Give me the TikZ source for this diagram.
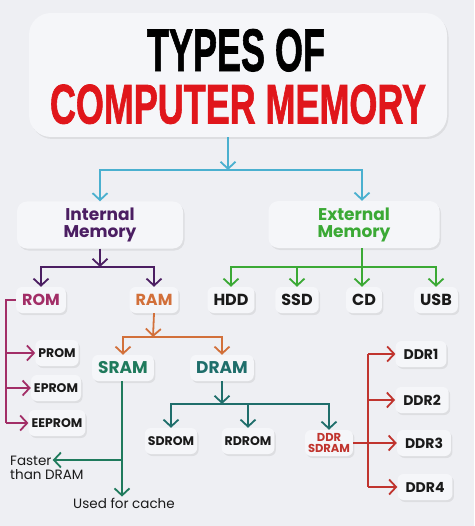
\documentclass[tikz,border=0pt]{standalone}
\usepackage{graphicx}
\usepackage{fontspec}
\setmainfont{Poppins}
\newfontfamily\titlefont[FakeBold=1.5]{Liberation Sans}
\usetikzlibrary{arrows.meta,shadows}
\definecolor{bg}{HTML}{EEEFF3}
\definecolor{boxc}{HTML}{F5F6F9}
\definecolor{titred}{HTML}{E0161B}
\definecolor{cTop}{HTML}{4AB0CF}
\definecolor{cInt}{HTML}{4B1E62}
\definecolor{cRom}{HTML}{A22E67}
\definecolor{cRam}{HTML}{D2703A}
\definecolor{cExt}{HTML}{3BA935}
\definecolor{cSram}{HTML}{1F7A5C}
\definecolor{cDram}{HTML}{1F6E6B}
\definecolor{cDdr}{HTML}{C0342E}
\definecolor{ink}{HTML}{1A1A1A}
\begin{document}
\begin{tikzpicture}[x=1pt,y=-1pt,
  ln/.style={line width=1.8pt},
  arr/.style={line width=1.8pt,-{Straight Barb[length=7pt,width=15pt]}},
  soft/.style={drop shadow={shadow xshift=1.5pt,shadow yshift=-2pt,opacity=0.07,fill=black}},
  bigbox/.style={rounded corners=22pt,fill=boxc,soft,minimum width=418pt,minimum height=124pt},
  midbox/.style={rounded corners=10pt,fill=boxc,soft,minimum height=47pt,align=center,
     font=\bfseries\fontsize{17}{17}\selectfont},
  lab/.style={rounded corners=6pt,fill=boxc,soft,minimum height=26pt,inner xsep=6pt,inner ysep=2pt,
     font=\bfseries\fontsize{16}{16}\selectfont},
  small/.style={lab,inner xsep=3pt,text=ink,font=\bfseries\fontsize{12.5}{12.5}\selectfont},
  plain/.style={inner sep=1pt,text=ink,font=\fontsize{13.5}{14}\selectfont}
]
\useasboundingbox (0,0) rectangle (474,526);
\fill[bg] (0,0) rectangle (474,526);

% title
\node[bigbox] (title) at (238,75) {};
\node[inner sep=0pt,text=black] (t1) at (236,50) {\raisebox{0pt}[\height][0pt]{\titlefont\bfseries\resizebox{178pt}{42pt}{TYPES OF}}};
\node[inner sep=0pt,text=titred] (t2) at (238,104) {\raisebox{0pt}[\height][0pt]{\titlefont\bfseries\resizebox{376pt}{39pt}{COMPUTER MEMORY}}};

% level 1
\node[midbox,minimum width=166pt,text=cInt] (intl) at (100,225) {Internal\\Memory};
\node[midbox,minimum width=171pt,text=cExt] (ext) at (354,224.5) {External\\Memory};
\coordinate (jTop) at (228,170);
\coordinate (jExt) at (362,267);
\coordinate (jInt) at (100,267);
\draw[arr,cTop] (title.south -| jTop) -- (jTop);
\draw[arr,cTop] (jTop) -| (intl.north);
\draw[arr,cTop] (jTop) -| (ext.north -| jExt);

% level 2 internal
\node[lab,text=cRom] (rom) at (41,300) {ROM};
\node[lab,text=cRam] (ram) at (154,300) {RAM};
\draw[arr,cInt] (intl.south) -- (jInt);
\draw[arr,cInt] (jInt) -| (rom.north);
\draw[arr,cInt] (jInt) -| (ram.north);

% level 2 external
\node[lab,text=ink] (hdd) at (231,300) {HDD};
\node[lab,text=ink] (ssd) at (297,300) {SSD};
\node[lab,text=ink] (cd) at (364,300) {CD};
\node[lab,text=ink] (usb) at (436,300) {USB};
\draw[arr,cExt] (ext.south -| jExt) -- (cd.north -| jExt);
\draw[arr,cExt] (jExt) -| (hdd.north);
\draw[arr,cExt] (jExt) -| (ssd.north);
\draw[arr,cExt] (jExt) -| (usb.north);

% ROM children
\node[small] (prom) at (57,353) {PROM};
\node[small] (eprom) at (56,388) {EPROM};
\node[small] (eeprom) at (57,423) {EEPROM};
\coordinate (romEnd) at (6,423);
\draw[ln,cRom] (rom.west) -| (romEnd);
\draw[arr,cRom] (prom.west -| romEnd) -- (prom.west);
\draw[arr,cRom] (eprom.west -| romEnd) -- (eprom.west);
\draw[arr,cRom] (romEnd) -- (eeprom.west);

% RAM children
\node[lab,text=cSram,font=\bfseries\fontsize{17}{17}\selectfont] (sram) at (123,368) {SRAM};
\node[lab,text=cDram,font=\bfseries\fontsize{17}{17}\selectfont] (dram) at (222,368) {DRAM};
\coordinate (jRam) at (153,337);
\draw[arr,cRam] (ram.south) -- (jRam);
\draw[arr,cRam] (jRam) -| (sram.north);
\draw[arr,cRam] (jRam) -| (dram.north);

% SRAM notes
\node[plain,anchor=west] (fast1) at (9,461) {Faster};
\node[plain,anchor=west] (fast2) at (9,475) {than DRAM};
\node[plain] (cache) at (124,503) {Used for cache};
\coordinate (jS) at (122,460);
\draw[arr,cSram] (sram.south -| jS) -- (cache.north -| jS);
\draw[arr,cSram] (jS) -- (fast1.east |- jS);

% DRAM children
\node[small] (sdrom) at (171,441) {SDROM};
\node[small] (rdrom) at (248,441) {RDROM};
\node[small,text=cDdr,align=center,inner ysep=3pt,font=\bfseries\fontsize{11.5}{10.5}\selectfont] (ddr) at (329,443) {DDR\\SDRAM};
\coordinate (jD) at (222,404);
\draw[arr,cDram] (dram.south) -- (jD);
\draw[arr,cDram] (jD) -| (sdrom.north);
\draw[arr,cDram] (jD) -| (rdrom.north);
\draw[arr,cDram] (jD) -| (ddr.north);

% DDR children
\node[lab,text=ink,font=\bfseries\fontsize{14}{14}\selectfont,inner xsep=8pt] (d1) at (421,354) {DDR1};
\node[lab,text=ink,font=\bfseries\fontsize{14}{14}\selectfont,inner xsep=8pt] (d2) at (422,400) {DDR2};
\node[lab,text=ink,font=\bfseries\fontsize{14}{14}\selectfont,inner xsep=8pt] (d3) at (424,443) {DDR3};
\node[lab,text=ink,font=\bfseries\fontsize{14}{14}\selectfont,inner xsep=8pt] (d4) at (425,487) {DDR4};
\coordinate (jR) at (368,443);
\draw[ln,cDdr] (d1.west -| jR) -- (d4.west -| jR);
\draw[arr,cDdr] (ddr.east) -- (d3.west);
\draw[arr,cDdr] (d1.west -| jR) -- (d1.west);
\draw[arr,cDdr] (d2.west -| jR) -- (d2.west);
\draw[arr,cDdr] (d4.west -| jR) -- (d4.west);
\end{tikzpicture}
\end{document}
